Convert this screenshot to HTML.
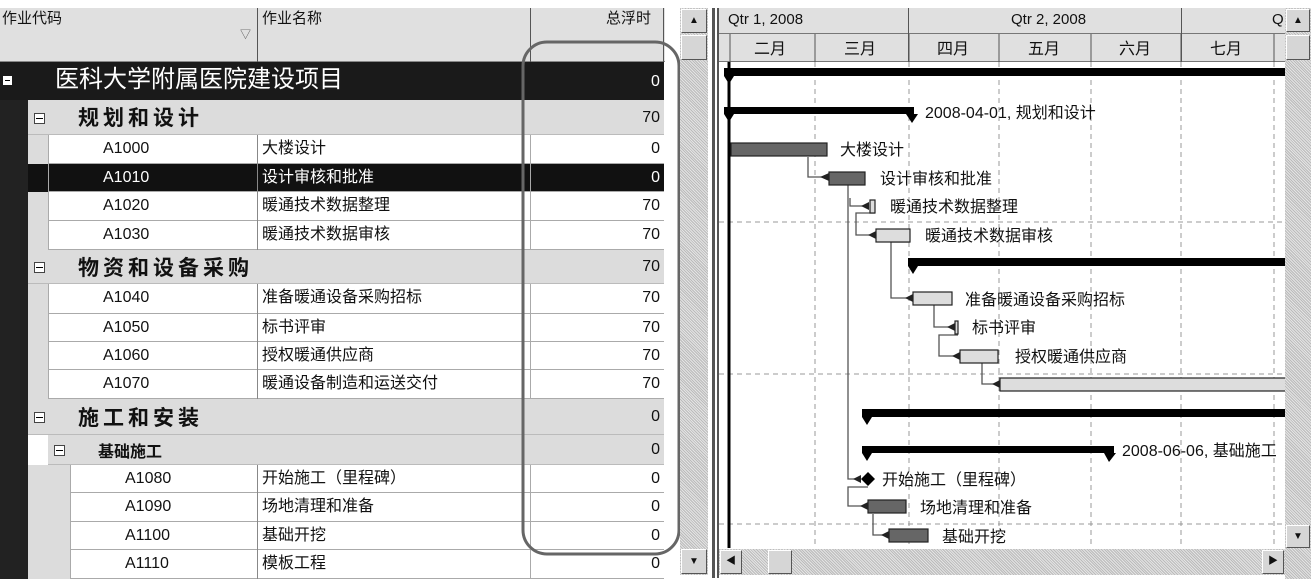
<!DOCTYPE html>
<html><head><meta charset="utf-8"><style>
*{margin:0;padding:0;box-sizing:border-box}
body{width:1311px;height:579px;background:#fff;position:relative;overflow:hidden;font-family:"Liberation Sans","Noto Sans CJK SC",sans-serif;color:#111}
.a{position:absolute}
.c{position:absolute;font-size:16px;line-height:1;white-space:nowrap}
.sb{background:repeating-linear-gradient(45deg,#bbb 0 1px,#e4e4e4 1px 2px)}
.btn{position:absolute;background:#d6d6d6;border:1px solid #fff;border-right-color:#555;border-bottom-color:#555;font-size:10px;text-align:center}
</style></head><body>
<div class="a" style="left:0;top:8px;width:665px;height:54px;background:#e0e0e0;border-bottom:1px solid #888"></div>
<div class="a" style="left:257px;top:8px;width:1px;height:54px;background:#555"></div>
<div class="a" style="left:530px;top:8px;width:1px;height:54px;background:#555"></div>
<div class="a" style="left:663px;top:8px;width:1px;height:54px;background:#555"></div>
<div class="c" style="left:2px;top:11px;font-size:15px">作业代码</div>
<div class="c" style="left:240px;top:30px;font-size:11px;color:#555">▽</div>
<div class="c" style="left:262px;top:11px;font-size:15px">作业名称</div>
<div class="c" style="left:606px;top:11px;font-size:15px">总浮时</div>
<div class="a" style="left:0;top:62px;width:28px;height:517px;background:#222"></div>
<div class="a" style="left:0;top:62px;width:664px;height:38px;background:#1a1a1a"></div>
<div class="a" style="left:3px;top:76px;width:9px;height:9px;background:#fff;border:1px solid #fff"></div>
<div class="a" style="left:5px;top:80px;width:5px;height:1px;background:#000"></div>
<div class="c" style="left:55px;top:68px;font-size:24px;color:#fff">医科大学附属医院建设项目</div>
<div class="c" style="left:651px;top:74px;color:#fff">0</div>
<div id="rows"></div>
<svg class="a" style="left:0;top:0" width="700" height="579"><rect x="523" y="42" width="156" height="512" rx="24" fill="none" stroke="#666" stroke-width="3"/></svg>
<div class="a sb" style="left:680px;top:8px;width:28px;height:567px"></div>
<div class="btn" style="left:681px;top:9px;width:26px;height:24px;line-height:22px">▲</div>
<div class="btn" style="left:681px;top:35px;width:26px;height:25px"></div>
<div class="btn" style="left:681px;top:549px;width:26px;height:25px;line-height:23px">▼</div>
<div class="a" style="left:712px;top:8px;width:3px;height:570px;background:#555"></div>
<div class="a" style="left:717px;top:8px;width:2px;height:570px;background:#555"></div>
<div class="a" style="left:719px;top:8px;width:566px;height:54px;background:#e0e0e0"></div>
<div class="a" style="left:719px;top:33px;width:566px;height:1px;background:#777"></div>
<div class="a" style="left:719px;top:61px;width:566px;height:1px;background:#777"></div>
<div class="c" style="left:728px;top:12px;font-size:15px">Qtr 1, 2008</div>
<div class="c" style="left:1011px;top:12px;font-size:15px">Qtr 2, 2008</div>
<div class="c" style="left:1272px;top:12px;font-size:15px">Q</div>
<div class="a" style="left:908px;top:8px;width:1px;height:54px;background:#555"></div>
<div class="a" style="left:1181px;top:8px;width:1px;height:54px;background:#555"></div>
<svg class="a" style="left:0;top:0" width="1311" height="579">
<defs><clipPath id="cp"><rect x="719" y="62" width="566" height="487"/></clipPath></defs>
<g stroke="#555" stroke-width="1">
<line x1="730" y1="34" x2="730" y2="62"/><line x1="815" y1="34" x2="815" y2="62"/><line x1="909" y1="34" x2="909" y2="62"/><line x1="999" y1="34" x2="999" y2="62"/><line x1="1091" y1="34" x2="1091" y2="62"/><line x1="1181" y1="34" x2="1181" y2="62"/><line x1="1274" y1="34" x2="1274" y2="62"/>
</g>
<g font-family="Liberation Sans,Noto Sans CJK SC,sans-serif" font-size="16" fill="#111">
<text x="770" y="54" text-anchor="middle">二月</text><text x="860" y="54" text-anchor="middle">三月</text><text x="953" y="54" text-anchor="middle">四月</text><text x="1044" y="54" text-anchor="middle">五月</text><text x="1135" y="54" text-anchor="middle">六月</text><text x="1226" y="54" text-anchor="middle">七月</text>
</g>
<g clip-path="url(#cp)">
<g stroke="#999" stroke-dasharray="5,4">
<line x1="815" y1="62" x2="815" y2="548"/><line x1="909" y1="62" x2="909" y2="548"/><line x1="999" y1="62" x2="999" y2="548"/><line x1="1091" y1="62" x2="1091" y2="548"/><line x1="1181" y1="62" x2="1181" y2="548"/><line x1="1274" y1="62" x2="1274" y2="548"/>
<line x1="719" y1="222" x2="1285" y2="222"/><line x1="719" y1="374" x2="1285" y2="374"/><line x1="719" y1="524" x2="1285" y2="524"/>
</g>
<line x1="729" y1="62" x2="729" y2="548" stroke="#000" stroke-width="3"/>
<g fill="#000">
<rect x="724" y="68" width="561" height="8"/><polygon points="724,76 734,76 729,84"/>
<rect x="724" y="107" width="190" height="7"/><polygon points="724,114 734,114 729,122"/><polygon points="906,114 918,114 912,123"/>
<rect x="908" y="258" width="377" height="8"/><polygon points="908,266 918,266 913,274"/>
<rect x="862" y="409" width="423" height="8"/><polygon points="862,417 872,417 867,425"/>
<rect x="862" y="446" width="252" height="7"/><polygon points="862,453 872,453 867,461"/><polygon points="1104,453 1116,453 1109,462"/>
<polygon points="868,472 875,479 868,486 861,479"/>
</g>
<g fill="none" stroke="#555" stroke-width="1.3">
<polyline points="808,157 808,177 829,177"/>
<polyline points="848,185 848,479 861,479"/>
<polyline points="850,198 850,206 869,206"/>
<polyline points="875,213 856,213 856,235 876,235"/>
<polyline points="910,242 891,242 891,298 913,298"/>
<polyline points="934,305 934,327 955,327"/>
<polyline points="958,335 939,335 939,356 960,356"/>
<polyline points="998,362 982,362 982,384 1000,384"/>
<polyline points="868,487 848,487 848,506 868,506"/>
<polyline points="873,514 873,535 889,535"/>
</g>
<g fill="#222">
<polygon points="820,177 829,173 829,181"/><polygon points="861,206 869,202 869,210"/><polygon points="868,235 876,231 876,239"/><polygon points="905,298 913,294 913,302"/><polygon points="947,327 955,323 955,331"/><polygon points="952,356 960,352 960,360"/><polygon points="992,384 1000,380 1000,388"/><polygon points="853,479 861,475 861,483"/><polygon points="860,506 868,502 868,510"/><polygon points="881,535 889,531 889,539"/>
</g>
<g stroke="#222" stroke-width="1.2">
<rect x="731" y="143" width="96" height="13" fill="#666"/>
<rect x="829" y="172" width="36" height="13" fill="#666"/>
<rect x="870" y="200" width="5" height="13" fill="#ddd"/>
<rect x="876" y="229" width="34" height="13" fill="#ddd"/>
<rect x="913" y="292" width="39" height="13" fill="#ddd"/>
<rect x="955" y="321" width="3" height="13" fill="#ddd"/>
<rect x="960" y="350" width="38" height="13" fill="#ddd"/>
<rect x="1000" y="378" width="290" height="13" fill="#ddd"/>
<rect x="868" y="500" width="38" height="13" fill="#666"/>
<rect x="889" y="529" width="39" height="13" fill="#666"/>
</g>
<g font-family="Liberation Sans,Noto Sans CJK SC,sans-serif" font-size="16" fill="#111">
<text x="925" y="118">2008-04-01, 规划和设计</text>
<text x="840" y="155">大楼设计</text>
<text x="880" y="184">设计审核和批准</text>
<text x="890" y="212">暖通技术数据整理</text>
<text x="925" y="241">暖通技术数据审核</text>
<text x="965" y="305">准备暖通设备采购招标</text>
<text x="972" y="333">标书评审</text>
<text x="1015" y="362">授权暖通供应商</text>
<text x="1122" y="456">2008-06-06, 基础施工</text>
<text x="882" y="485">开始施工（里程碑）</text>
<text x="920" y="513">场地清理和准备</text>
<text x="942" y="542">基础开挖</text>
</g>
</g>
</svg>
<div class="a sb" style="left:1285px;top:8px;width:26px;height:571px"></div>
<div class="btn" style="left:1286px;top:9px;width:24px;height:23px;line-height:21px">▲</div>
<div class="btn" style="left:1286px;top:35px;width:24px;height:25px"></div>
<div class="btn" style="left:1286px;top:525px;width:24px;height:23px;line-height:21px">▼</div>
<div class="a sb" style="left:719px;top:549px;width:566px;height:26px"></div>
<div class="btn" style="left:720px;top:550px;width:22px;height:24px;line-height:22px">◀</div>
<div class="btn" style="left:768px;top:550px;width:24px;height:24px"></div>
<div class="btn" style="left:1262px;top:550px;width:22px;height:24px;line-height:22px">▶</div>
<script>
var R=[
["g",100,135,"规划和设计","70",28],
["t",135,164,"A1000","大楼设计","0",48],
["s",164,192,"A1010","设计审核和批准","0",48],
["t",192,221,"A1020","暖通技术数据整理","70",48],
["t",221,250,"A1030","暖通技术数据审核","70",48],
["g",250,284,"物资和设备采购","70",28],
["t",284,314,"A1040","准备暖通设备采购招标","70",48],
["t",314,342,"A1050","标书评审","70",48],
["t",342,370,"A1060","授权暖通供应商","70",48],
["t",370,399,"A1070","暖通设备制造和运送交付","70",48],
["g",399,435,"施工和安装","0",28],
["h",435,465,"基础施工","0",48],
["t",465,493,"A1080","开始施工（里程碑）","0",70],
["t",493,522,"A1090","场地清理和准备","0",70],
["t",522,550,"A1100","基础开挖","0",70],
["t",550,579,"A1110","模板工程","0",70]];
var h="";
R.forEach(function(r){var y=r[1],H=r[2]-r[1];
if(r[0]=="g"||r[0]=="h"){var L=r[5];
h+='<div class="a" style="left:'+L+'px;top:'+y+'px;width:'+(664-L)+'px;height:'+H+'px;background:#dcdcdc;border-bottom:1px solid #bbb"></div>';
h+='<div class="a" style="left:'+(L+6)+'px;top:'+(y+H/2-5)+'px;width:11px;height:11px;border:1px solid #444;background:#fff"></div><div class="a" style="left:'+(L+8)+'px;top:'+(y+H/2)+'px;width:7px;height:1px;background:#000"></div>';
var fs=r[0]=="g"?21:16,ls=r[0]=="g"?4:0;
h+='<div class="c" style="left:'+(L+50)+'px;top:'+(y+(H-fs)/2)+'px;font-size:'+fs+'px;font-weight:bold;letter-spacing:'+ls+'px;font-family:\'Noto Sans CJK SC\',sans-serif">'+r[3]+'</div>';
h+='<div class="c" style="right:'+(1311-660)+'px;top:'+(y+(H-16)/2)+'px">'+r[4]+'</div>';
}else{var L=r[6],sel=r[0]=="s";
if(L>48)h+='<div class="a" style="left:28px;top:'+y+'px;width:'+(L-28)+'px;height:'+H+'px;background:#dcdcdc"></div>';
if(L==48)h+='<div class="a" style="left:28px;top:'+y+'px;width:20px;height:'+H+'px;background:'+(sel?'#111':'#dcdcdc')+'"></div>';
var bg=sel?'#111':'#fff',fc=sel?'#fff':'#111';
h+='<div class="a" style="left:'+L+'px;top:'+y+'px;width:'+(664-L)+'px;height:'+H+'px;background:'+bg+';border-bottom:1px solid #aaa;border-left:1px solid #aaa"></div>';
h+='<div class="a" style="left:257px;top:'+y+'px;width:1px;height:'+H+'px;background:#888"></div><div class="a" style="left:530px;top:'+y+'px;width:1px;height:'+H+'px;background:#aaa"></div>';
h+='<div class="c" style="left:'+(L+55)+'px;top:'+(y+6)+'px;color:'+fc+'">'+r[3]+'</div>';
h+='<div class="c" style="left:262px;top:'+(y+6)+'px;color:'+fc+'">'+r[4]+'</div>';
h+='<div class="c" style="right:'+(1311-660)+'px;top:'+(y+6)+'px;color:'+fc+'">'+r[5]+'</div>';}
});
document.getElementById("rows").innerHTML=h;
</script>
</body></html>
